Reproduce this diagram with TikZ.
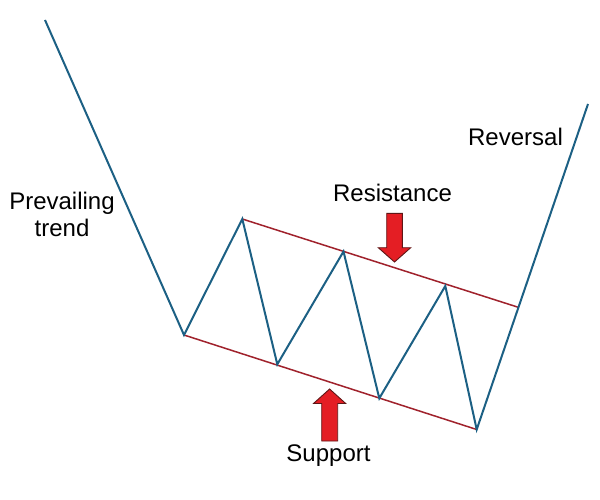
\documentclass[tikz,border=0pt]{standalone}
\usepackage{fontspec}
\setmainfont{Liberation Sans}
\definecolor{trendblue}{RGB}{28,96,132}
\definecolor{chanred}{RGB}{160,34,44}
\definecolor{arrowfill}{RGB}{228,30,36}
\definecolor{arrowedge}{RGB}{95,22,22}
\tikzset{
  price/.style={draw=trendblue, line width=2pt, line join=miter},
  channel/.style={draw=chanred, line width=1.5pt},
  bigarrow/.style={fill=arrowfill, draw=arrowedge, line width=0.9pt, line join=miter},
  lbl/.style={font=\fontsize{24}{27}\selectfont, inner sep=0pt, text=black}
}
\begin{document}
\begin{tikzpicture}[x=1pt, y=-1pt]
\useasboundingbox (0,0) rectangle (600,500);
\fill[white] (0,0) rectangle (600,500);
% price path points
\coordinate (s) at (45,20);
\coordinate (v1) at (184,335);
\coordinate (p1) at (242.3,219);
\coordinate (v2) at (277.3,364.3);
\coordinate (p2) at (343.5,251.5);
\coordinate (v3) at (379.3,398.3);
\coordinate (p3) at (445.3,286);
\coordinate (v4) at (476.7,429.5);
\coordinate (e) at (588,104);
\coordinate (r) at (518.3,307.3);
% channel lines
\draw[channel] (p1) -- (r);
\draw[channel] (v1) -- (v4);
% price path
\draw[price] (s) -- (v1) -- (p1) -- (v2) -- (p2) -- (v3) -- (p3) -- (v4) -- (e);
% resistance arrow
\draw[bigarrow] (386.7,213.3) -- (402.3,213.3) -- (402.3,247.7) -- (410.7,247.7)
  -- (394.5,262) -- (378.3,247.7) -- (386.7,247.7) -- cycle;
% support arrow
\draw[bigarrow] (321.7,441) -- (337.7,441) -- (337.7,403.5) -- (345.7,403.5)
  -- (329.6,389) -- (313.5,403.5) -- (321.7,403.5) -- cycle;
% labels
\node[lbl, anchor=north, align=center] (prev) at (62,192) {Prevailing\\trend};
\node[lbl, anchor=base] (res) at (392.5,201) {Resistance};
\node[lbl, anchor=base] (rev) at (515.5,146) {Reversal};
\node[lbl, anchor=base] (sup) at (328.5,461.5) {Support};
\end{tikzpicture}
\end{document}
